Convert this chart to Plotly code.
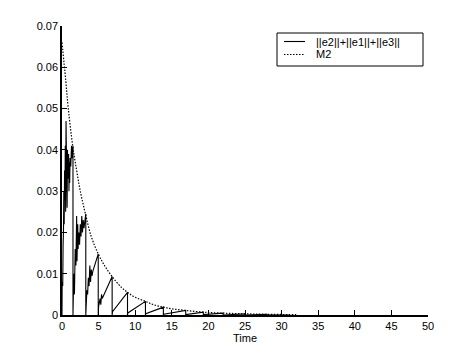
import plotly.graph_objects as go

# Solid line ||e2||+||e1||+||e3||
err_t = [0, 0.02, 0.1, 0.15, 0.2, 0.25, 0.3, 0.35, 0.4, 0.45, 0.5, 0.55, 0.6, 0.65, 0.7, 0.75, 0.8, 0.9,
         0.95, 1.0, 1.05, 1.1, 1.2, 1.3, 1.4, 1.5,
         1.5, 1.55, 1.6, 1.7, 1.8, 1.9, 2.0, 2.05, 2.15, 2.2, 2.3, 2.4, 2.5, 2.6, 2.7, 2.8, 2.9, 3.0, 3.1, 3.25,
         3.25, 3.3, 3.4, 3.5, 3.6, 3.7, 3.8, 3.9, 4.0, 4.1, 4.2, 4.95,
         4.95, 5.0, 5.2, 5.3, 5.4, 5.5, 6.85,
         6.85, 6.9, 8.95,
         8.95, 9.0, 11.4,
         11.4, 11.45, 13.85,
         13.85, 13.9, 16.9,
         16.9, 16.95, 19.3,
         19.3, 19.35, 22.0,
         22.0, 22.05, 25.0,
         25.0, 25.05, 28.0,
         28.0, 28.05, 31.0, 31.0, 35.0, 50.0]
err_v = [0, 0.008, 0.007, 0.017, 0.02, 0.03, 0.022, 0.035, 0.028, 0.041, 0.025, 0.047, 0.03, 0.038, 0.026,
         0.04, 0.033, 0.039, 0.03, 0.037, 0.032, 0.038, 0.036, 0.041, 0.038, 0.041,
         0, 0.003, 0.01, 0.005, 0.016, 0.012, 0.024, 0.013, 0.022, 0.016, 0.02, 0.017, 0.022, 0.019, 0.024,
         0.02, 0.023, 0.021, 0.023, 0.0245,
         0, 0.004, 0.006, 0.005, 0.009, 0.007, 0.012, 0.008, 0.011, 0.0095, 0.0105, 0.0148,
         0, 0.002, 0.004, 0.0025, 0.005, 0.004, 0.0093,
         0, 0.0008, 0.0055,
         0, 0.0005, 0.0033,
         0, 0.0003, 0.0019,
         0, 0.0002, 0.0011,
         0, 0.0001, 0.0007,
         0, 0.0001, 0.00045,
         0, 0.0, 0.00028,
         0, 0.0, 0.00017, 0, 0, 0]

# Dotted bound M2
m2_t = [0, 0.5, 0.86, 1.46, 2.0, 2.5, 3.2, 4.0, 4.95, 5.8, 6.85, 8.0, 8.95, 10.0, 11.4, 12.5, 13.85,
        15.0, 16.9, 19.3, 22.0, 25.0, 28.0, 32.0]
m2_v = [0.066, 0.057, 0.050, 0.041, 0.035, 0.030, 0.0245, 0.019, 0.0148, 0.012, 0.0093, 0.0069, 0.0055,
        0.0043, 0.0033, 0.0025, 0.0019, 0.0015, 0.0011, 0.0007, 0.00045, 0.00028, 0.00017, 0.0001]

series_names = ["||e2||+||e1||+||e3||", "M2"]
x_ticks = [0, 5, 10, 15, 20, 25, 30, 35, 40, 45, 50]
y_ticks = [0, 0.01, 0.02, 0.03, 0.04, 0.05, 0.06, 0.07]
y_tick_labels = ["0", "0.01", "0.02", "0.03", "0.04", "0.05", "0.06", "0.07"]

DOT = "1.5px,1.5px"
fig = go.Figure()
fig.add_trace(go.Scatter(x=err_t, y=err_v, mode="lines", name=series_names[0],
                         line=dict(color="black", width=1.1)))
fig.add_trace(go.Scatter(x=m2_t, y=m2_v, mode="lines", name=series_names[1], line_shape="spline",
                         line=dict(color="black", width=1.2, dash=DOT)))

font = dict(family="Liberation Sans, Arial, sans-serif", size=11, color="black")

# Manual legend (pixel layout converted to paper coordinates)
L, T, W, H = 62, 26, 366, 289
def px(x):
    return (x - L) / W
def py(y):
    return (T + H - y) / H

shapes = [dict(type="rect", xref="paper", yref="paper", x0=px(277), x1=px(423), y0=py(66), y1=py(33),
               line=dict(color="black", width=1), fillcolor="white", layer="above")]
annotations = []
rows = [41.5, 54.5]
dashes = ["solid", DOT]
for name, yr, d in zip(series_names, rows, dashes):
    shapes.append(dict(type="line", xref="paper", yref="paper", x0=px(284), x1=px(305), y0=py(yr), y1=py(yr),
                       line=dict(color="black", width=1.1, dash=d), layer="above"))
    annotations.append(dict(xref="paper", yref="paper", x=px(314), y=py(yr), text=name, showarrow=False,
                            xanchor="left", yanchor="middle", font=font))

fig.update_layout(
    width=474, height=354,
    margin=dict(l=62, r=46, t=26, b=39),
    paper_bgcolor="white", plot_bgcolor="white",
    font=font,
    showlegend=False,
    shapes=shapes,
    annotations=annotations,
    xaxis=dict(range=[0, 50], tickvals=x_ticks, ticks="inside", ticklen=5, tickcolor="black",
               showline=True, linecolor="black", linewidth=1.5, showgrid=False, zeroline=False,
               title=dict(text="Time", standoff=2, font=font), tickfont=font),
    yaxis=dict(range=[0, 0.07], tickvals=y_ticks, ticktext=y_tick_labels, ticks="inside", ticklen=5,
               tickcolor="black", showline=True, linecolor="black", linewidth=1.5, showgrid=False,
               zeroline=False, tickfont=font),
)
fig.write_html("out.html")
